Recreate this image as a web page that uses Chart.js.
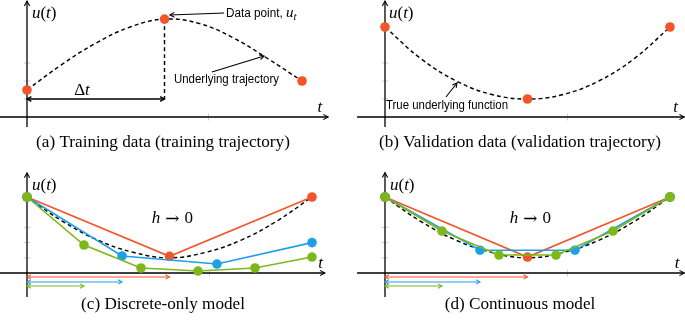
<!DOCTYPE html>
<html><head><meta charset="utf-8">
<script src="https://cdn.jsdelivr.net/npm/chart.js@4.4.0/dist/chart.umd.min.js"></script>
<style>
html,body{margin:0;padding:0;background:#fff;width:685px;height:322px;overflow:hidden;}
canvas{position:absolute;}
</style></head><body>
<canvas id="pa" width="342" height="160" style="left:0;top:0"></canvas>
<canvas id="pb" width="343" height="160" style="left:342px;top:0"></canvas>
<canvas id="pc" width="342" height="162" style="left:0;top:160px"></canvas>
<canvas id="pd" width="343" height="162" style="left:342px;top:160px"></canvas>
<script>
// ---------- data ----------
// (a) training trajectory
const trainT = [0, 1, 2];
const trainU = [1.5, 5.44, 2.0];
const trainCurveT = [0, 0.25, 0.5, 0.75, 1, 1.25, 1.5, 1.75, 2];
const trainCurveU = [1.5, 2.9, 4.1, 5.0, 5.44, 5.2, 4.4, 3.25, 2.0];
// (b) validation trajectory
const valT = [0, 1, 2];
const valU = [5, 1, 5];
const valCurveT = [0, 0.25, 0.5, 0.75, 1, 1.25, 1.5, 1.75, 2];
const valCurveU = [5, 3.25, 2.0, 1.25, 1.0, 1.25, 2.0, 3.25, 5];
// (c)/(d) true function (dashed)
const trueT = [0, 0.25, 0.5, 0.75, 1, 1.25, 1.5, 1.75, 2];
const trueU = [5, 3.4, 2.15, 1.35, 1.0, 1.35, 2.15, 3.4, 5];
// step grids
const coarseT = [0, 1, 2];
const mediumT = [0, 0.667, 1.333, 2];
const fineT = [0, 0.4, 0.8, 1.2, 1.6, 2];
const stepSizes = [1, 0.667, 0.4];
// (c) discrete-only model
const discCoarseU = [5, 1.1, 5];
const discMediumU = [5, 1.12, 0.59, 2.0];
const discFineU = [5, 1.84, 0.33, 0.13, 0.33, 1.05];
// (d) continuous model
const contCoarseU = [5, 1.05, 5];
const contMediumU = [5, 1.5, 1.5, 5];
const contFineU = [5, 2.76, 1.18, 1.18, 2.76, 5];
// axis ticks
const yTickVals = [1, 2, 3];
const xTickTop = [1.32];
const xTickOther = [1.28];
const captions = ['(a) Training data (training trajectory)', '(b) Validation data (validation trajectory)', '(c) Discrete-only model', '(d) Continuous model'];

// ---------- styles ----------
const ORANGE = '#F4542A', BLUE = '#1EA0E6', GREEN = '#7DB71A';
const SERIF = '"Liberation Serif", "DejaVu Serif", serif';
const SANS = '"Liberation Sans", "DejaVu Sans", sans-serif';
const MATH = 17;

function xy(T, U) { return T.map((t, i) => ({x: t, y: U[i]})); }

function arrowHead(ctx, x, y, ang, size) {
  ctx.beginPath();
  ctx.moveTo(x - size * Math.cos(ang - 0.5), y - size * Math.sin(ang - 0.5));
  ctx.lineTo(x, y);
  ctx.lineTo(x - size * Math.cos(ang + 0.5), y - size * Math.sin(ang + 0.5));
  ctx.stroke();
}
function drawRich(ctx, parts, x, y, align) {
  let w = 0;
  parts.forEach(p => { ctx.font = p.font; p.w = ctx.measureText(p.s).width * (p.sx || 1) + (p.pad || 0) * 2; w += p.w; });
  let cx = align === 'center' ? x - w / 2 : x;
  ctx.textAlign = 'left'; ctx.textBaseline = 'alphabetic';
  parts.forEach(p => {
    ctx.font = p.font; ctx.fillStyle = '#000';
    ctx.save(); ctx.translate(cx + (p.pad || 0), y + (p.dy || 0)); ctx.scale(p.sx || 1, 1);
    ctx.fillText(p.s, 0, 0); ctx.restore();
    cx += p.w;
  });
}
const it = s => ({s, font: 'italic ' + MATH + 'px ' + SERIF});
const up = s => ({s, font: MATH + 'px ' + SERIF});
const uLabel = () => [it('u'), up('('), it('t'), up(')')];
const hLabel = () => [it('h'), {s: '\u2192', font: '17px "DejaVu Serif", serif', dy: 1, pad: 5}, up('0')];

let captionSize = null;
function capFont(ctx) {
  if (!captionSize) {
    ctx.font = '20px ' + SERIF;
    const w = ctx.measureText(captions[0]).width;
    captionSize = 20 * 254 / w;
  }
  return captionSize.toFixed(2) + 'px ' + SERIF;
}
function sansPart(ctx, text, width) {
  const font = '12.5px ' + SANS;
  ctx.font = font;
  const w = ctx.measureText(text).width;
  return {s: text, font, sx: width / w};
}

const decorPlugin = {
  id: 'decor',
  beforeDatasetsDraw(chart, args, o) {
    const ctx = chart.ctx, xs = chart.scales.x, ys = chart.scales.y;
    const X = v => xs.getPixelForValue(v), Y = v => ys.getPixelForValue(v);
    ctx.save();
    ctx.strokeStyle = '#c4c4c4'; ctx.lineWidth = 0.8;
    o.yTicks.forEach(v => { ctx.beginPath(); ctx.moveTo(X(0) - 3.5, Y(v)); ctx.lineTo(X(0) + 3.5, Y(v)); ctx.stroke(); });
    o.xTicks.forEach(v => { ctx.beginPath(); ctx.moveTo(X(v), Y(0) - 3.5); ctx.lineTo(X(v), Y(0) + 3.5); ctx.stroke(); });
    ctx.strokeStyle = '#000'; ctx.lineWidth = 1.3;
    ctx.beginPath(); ctx.moveTo(X(o.xAxis[0]), Y(0)); ctx.lineTo(X(o.xAxis[1]), Y(0)); ctx.stroke();
    ctx.beginPath(); ctx.moveTo(X(0), Y(o.yAxis[0])); ctx.lineTo(X(0), Y(o.yAxis[1])); ctx.stroke();
    ctx.lineWidth = 1.1;
    arrowHead(ctx, X(o.xAxis[1]), Y(0), 0, 5.5);
    arrowHead(ctx, X(0), Y(o.yAxis[1]), -Math.PI / 2, 5.5);
    ctx.restore();
  },
  afterDatasetsDraw(chart, args, o) {
    const ctx = chart.ctx, xs = chart.scales.x, ys = chart.scales.y;
    const X = v => xs.getPixelForValue(v), Y = v => ys.getPixelForValue(v);
    ctx.save();
    (o.arrows || []).forEach(a => {
      const x1 = X(a.from[0]), y1 = Y(a.from[1]), x2 = X(a.to[0]), y2 = Y(a.to[1]);
      ctx.strokeStyle = a.color || '#000'; ctx.lineWidth = a.width || 1.1;
      ctx.beginPath(); ctx.moveTo(x1, y1); ctx.lineTo(x2, y2); ctx.stroke();
      const ang = Math.atan2(y2 - y1, x2 - x1);
      arrowHead(ctx, x2, y2, ang, a.size || 5);
      if (a.both) arrowHead(ctx, x1, y1, ang + Math.PI, a.size || 5);
    });
    (o.labels || []).forEach(l => {
      let parts = l.parts;
      if (l.sans) parts = [sansPart(ctx, l.sans, l.fitW)].concat(l.extra || []);
      drawRich(ctx, parts, X(l.at[0]), Y(l.at[1]), l.align || 'left');
    });
    ctx.font = capFont(ctx); ctx.fillStyle = '#000'; ctx.textAlign = 'center'; ctx.textBaseline = 'alphabetic';
    ctx.fillText(o.caption.text, o.caption.x, o.caption.y);
    ctx.restore();
  }
};

function lineDs(T, U, color, order) {
  return {data: xy(T, U), showLine: true, borderColor: color, backgroundColor: color,
    borderWidth: 1.6, pointRadius: 4.8, pointBorderWidth: 0, pointHoverRadius: 4.8, tension: 0, order};
}
function dashDs(T, U, order) {
  return {data: xy(T, U), showLine: true, borderColor: '#000', borderWidth: 1.45, borderDash: [4, 3],
    pointRadius: 0, tension: 0.4, order};
}
function pointsDs(T, U, order) {
  return {data: xy(T, U), showLine: false, backgroundColor: ORANGE, pointRadius: 4.8, pointBorderWidth: 0, order};
}

function makePanel(id, xr, yr, datasets, decor) {
  new Chart(document.getElementById(id), {
    type: 'scatter',
    data: {datasets},
    options: {
      responsive: false, animation: false, events: [],
      layout: {padding: 0, autoPadding: false},
      plugins: {legend: {display: false}, tooltip: {enabled: false}, decor},
      scales: {
        x: {type: 'linear', min: xr[0], max: xr[1], display: false},
        y: {type: 'linear', min: yr[0], max: yr[1], display: false}
      }
    },
    plugins: [decorPlugin]
  });
}

// (a)
makePanel('pa', [-27 / 137.5, 315 / 137.5], [-43 / 18, 117 / 18], [
  pointsDs(trainT, trainU, 0),
  dashDs(trainCurveT, trainCurveU, 2),
  dashDs([trainT[1], trainT[1]], [trainU[1], 1], 3)
], {
  xAxis: [-0.2, 2.19], yAxis: [-0.56, 6.44], xTicks: xTickTop, yTicks: yTickVals,
  arrows: [
    {from: [0, 1], to: [1, 1], both: true, width: 1.3, size: 5},
    {from: [1.433, 5.78], to: [1.04, 5.67], width: 1.1, size: 5},
    {from: [1.345, 2.5], to: [1.724, 3.39], width: 1.1, size: 5}
  ],
  labels: [
    {parts: uLabel(), at: [0.036, 5.5]},
    {parts: [it('t')], at: [2.13, 0.28], align: 'center'},
    {parts: [up('\u0394'), it('t')], at: [0.4, 1.22], align: 'center'},
    {sans: 'Data point, ', fitW: 60, extra: [{s: 'u', font: 'italic 15px ' + SERIF}, {s: 't', font: 'italic 11px ' + SERIF, dy: 3}], at: [1.447, 5.56]},
    {sans: 'Underlying trajectory', fitW: 105, at: [1.069, 1.89]}
  ],
  caption: {text: captions[0], x: 163, y: 147}
});

// (b)
makePanel('pb', [-43 / 142.5, 300 / 142.5], [-43 / 18, 117 / 18], [
  pointsDs(valT, valU, 0),
  dashDs(valCurveT, valCurveU, 2)
], {
  xAxis: [-0.196, 2.1], yAxis: [-0.56, 6.44], xTicks: xTickOther, yTicks: yTickVals,
  arrows: [{from: [0.428, 1.11], to: [0.505, 1.89], width: 1.1, size: 5}],
  labels: [
    {parts: uLabel(), at: [0.028, 5.5]},
    {parts: [it('t')], at: [2.04, 0.28], align: 'center'},
    {sans: 'True underlying function', fitW: 122, at: [0.007, 0.44]}
  ],
  caption: {text: captions[1], x: 178, y: 147}
});

// (c)
const arrowsBottom = [
  {from: [0, -0.26], to: [stepSizes[0], -0.26], both: true, color: ORANGE, width: 1.1, size: 4.5},
  {from: [0, -0.59], to: [stepSizes[1], -0.59], both: true, color: BLUE, width: 1.1, size: 4.5},
  {from: [0, -0.86], to: [stepSizes[2], -0.86], both: true, color: GREEN, width: 1.1, size: 4.5}
];
makePanel('pc', [-27 / 142.5, 315 / 142.5], [-49 / 15.2, 113 / 15.2], [
  lineDs(fineT, discFineU, GREEN, 0),
  lineDs(mediumT, discMediumU, BLUE, 1),
  lineDs(coarseT, discCoarseU, ORANGE, 2),
  dashDs(trueT, trueU, 3)
], {
  xAxis: [-0.19, 2.09], yAxis: [-1.58, 6.58], xTicks: xTickOther, yTicks: yTickVals,
  arrows: arrowsBottom,
  labels: [
    {parts: uLabel(), at: [0.035, 5.46]},
    {parts: [it('t')], at: [2.06, 0.33], align: 'center'},
    {parts: hLabel(), at: [1.02, 3.29], align: 'center'}
  ],
  caption: {text: captions[2], x: 163, y: 149}
});

// (d)
makePanel('pd', [-43 / 142.5, 300 / 142.5], [-49 / 15.2, 113 / 15.2], [
  lineDs(fineT, contFineU, GREEN, 0),
  lineDs(mediumT, contMediumU, BLUE, 1),
  lineDs(coarseT, contCoarseU, ORANGE, 2),
  dashDs(trueT, trueU, 3)
], {
  xAxis: [-0.196, 2.1], yAxis: [-1.58, 6.6], xTicks: xTickOther, yTicks: yTickVals,
  arrows: arrowsBottom,
  labels: [
    {parts: uLabel(), at: [0.035, 5.46]},
    {parts: [it('t')], at: [2.05, 0.33], align: 'center'},
    {parts: hLabel(), at: [1.02, 3.29], align: 'center'}
  ],
  caption: {text: captions[3], x: 178, y: 149}
});
</script>
</body></html>
